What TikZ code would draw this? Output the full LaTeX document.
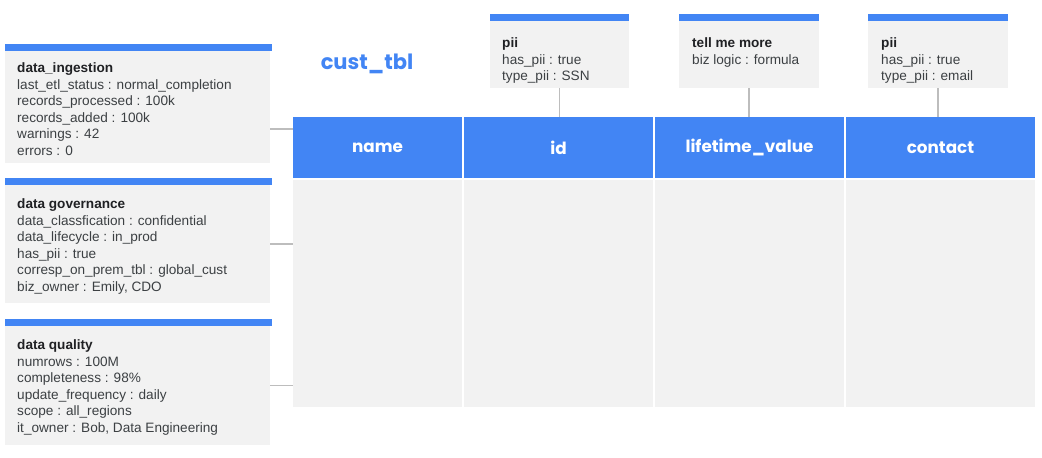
\documentclass[tikz,border=0pt]{standalone}
\usepackage{fontspec}
\setmainfont{Liberation Sans}
\newfontfamily\headfont{Poppins}
\usetikzlibrary{calc}
\definecolor{gblue}{HTML}{4285F4}
\definecolor{panelgray}{HTML}{F2F2F2}
\definecolor{textgray}{HTML}{3C4043}
\definecolor{titlegray}{HTML}{202124}
\definecolor{linkgray}{HTML}{BDBDBD}
\begin{document}
\begin{tikzpicture}[x=1pt,y=-1pt,
  bar/.style={fill=gblue, draw=none, inner sep=0pt, outer sep=0pt, anchor=north west, minimum height=7pt},
  panel/.style={fill=panelgray, draw=none, inner sep=0pt, outer sep=0pt, anchor=north west},
  info/.style={anchor=north west, inner sep=0pt, align=left, text=textgray, font=\fontsize{13.6}{16.6}\selectfont},
  hdr/.style={fill=gblue, draw=none, inner sep=0pt, outer sep=0pt, anchor=north west, minimum height=61pt, text=white, font=\headfont\bfseries\fontsize{16.8}{20}\selectfont},
  col/.style={fill=panelgray, draw=none, inner sep=0pt, outer sep=0pt, anchor=north west, minimum height=227pt},
  link/.style={draw=linkgray, line width=1.3pt}]
\useasboundingbox (0,0) rectangle (1042,458);
\fill[white] (0,0) rectangle (1042,458);

% title
\node[text=gblue, font=\headfont\bfseries\fontsize{21}{24}\selectfont, inner sep=0pt] (title) at (367,64) {cust\_tbl};

% table header
\node[hdr, minimum width=169pt] (namehdr) at (293,117) {name};
\node[hdr, minimum width=189pt] (idhdr) at (464,117) {id};
\node[hdr, minimum width=189pt] (lvhdr) at (655,117) {lifetime\_value};
\node[hdr, minimum width=189pt] (cthdr) at (846,117) {contact};
% table body
\node[col, minimum width=169pt] (namecol) at (293,180) {};
\node[col, minimum width=189pt] (idcol) at (464,180) {};
\node[col, minimum width=189pt] (lvcol) at (655,180) {};
\node[col, minimum width=189pt] (ctcol) at (846,180) {};

% left panels
\node[bar, minimum width=267pt] (ingbar) at (5,44) {};
\node[panel, minimum width=265pt, minimum height=112pt] (ing) at (5,51) {};
\node[info] (ingtxt) at (17,62.5) {\textcolor{titlegray}{\textbf{data\_ingestion}}\\
last\_etl\_status : normal\_completion\\
records\_processed : 100k\\
records\_added : 100k\\
warnings : 42\\
errors : 0};

\node[bar, minimum width=267pt] (govbar) at (5,178) {};
\node[panel, minimum width=265pt, minimum height=118pt] (gov) at (5,185) {};
\node[info] (govtxt) at (17,198.5) {\textcolor{titlegray}{\textbf{data governance}}\\
data\_classfication : confidential\\
data\_lifecycle : in\_prod\\
has\_pii : true\\
corresp\_on\_prem\_tbl : global\_cust\\
biz\_owner : Emily, CDO};

\node[bar, minimum width=267pt] (qualbar) at (5,319) {};
\node[panel, minimum width=265pt, minimum height=119pt] (qual) at (5,326) {};
\node[info] (qualtxt) at (17,339.5) {\textcolor{titlegray}{\textbf{data quality}}\\
numrows : 100M\\
completeness : 98\%\\
update\_frequency : daily\\
scope : all\_regions\\
it\_owner : Bob, Data Engineering};

% top panels
\node[bar, minimum width=139pt] (pii1bar) at (490,14) {};
\node[panel, minimum width=139pt, minimum height=67pt] (pii1) at (490,21) {};
\node[info] (pii1txt) at (502,37.5) {\textcolor{titlegray}{\textbf{pii}}\\
has\_pii : true\\
type\_pii : SSN};

\node[bar, minimum width=140pt] (tellbar) at (679,14) {};
\node[panel, minimum width=140pt, minimum height=67pt] (tell) at (679,21) {};
\node[info] (telltxt) at (692,37.5) {\textcolor{titlegray}{\textbf{tell me more}}\\
biz logic : formula};

\node[bar, minimum width=140pt] (pii2bar) at (868,14) {};
\node[panel, minimum width=140pt, minimum height=67pt] (pii2) at (868,21) {};
\node[info] (pii2txt) at (881,37.5) {\textcolor{titlegray}{\textbf{pii}}\\
has\_pii : true\\
type\_pii : email};

% connectors
\coordinate (ingout) at ($(ing.east)+(0,22)$);
\draw[link] (ingout) -- (ingout -| namehdr.west);
\draw[link] (gov.east) -- (gov.east -| namecol.west);
\draw[link] (qual.east) -- (qual.east -| namecol.west);
\draw[link] (pii1.south) -- (pii1.south |- idhdr.north);
\draw[link] (tell.south) -- (tell.south |- lvhdr.north);
\draw[link] (pii2.south) -- (pii2.south |- cthdr.north);
\end{tikzpicture}
\end{document}
